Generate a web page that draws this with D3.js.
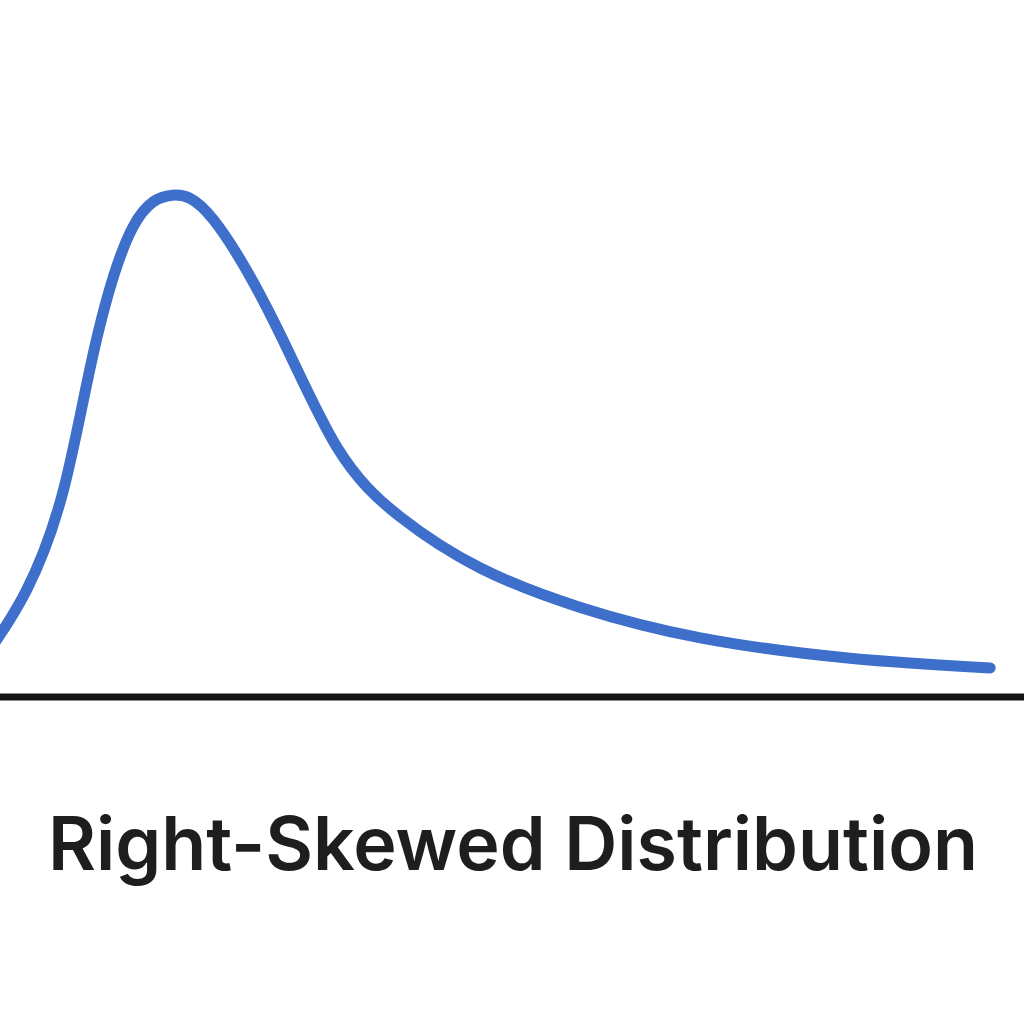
<!DOCTYPE html>
<html>
<head>
<meta charset="utf-8">
<script src="https://cdn.jsdelivr.net/npm/d3@7"></script>
<style>
  html, body { margin: 0; padding: 0; background: #fff; }
  svg { display: block; }
</style>
</head>
<body>
<script>
// chart size
const width = 1024
const height = 1024

// curve data (x in arbitrary units, y = density)
const xValues = [-0.10, 0.26, 0.62, 0.93, 1.30, 1.68, 2.08, 2.69, 3.29, 3.91, 4.69, 5.66, 6.84, 8.30, 9.67]
const yValues = [0.092, 0.210, 0.406, 0.690, 0.922, 0.984, 0.937, 0.730, 0.490, 0.353, 0.253, 0.176, 0.116, 0.076, 0.057]
const title = "Right-Skewed Distribution"

const points = xValues.map((x, i) => ({x: x, y: yValues[i]}))

const svg = d3.select("body")
              .append("svg")
              .attr("width", width)
              .attr("height", height)

svg.append("rect")
   .attr("width", width)
   .attr("height", height)
   .attr("fill", "#ffffff")

// scales
const x = d3.scaleLinear().domain([0, 10]).range([0, 1024])
const y = d3.scaleLinear().domain([0, 1]).range([697, 187])

// the curve
const line = d3.line()
               .x(d => x(d.x))
               .y(d => y(d.y))
               .curve(d3.curveNatural)

svg.append("path")
   .datum(points)
   .attr("d", line)
   .attr("fill", "none")
   .attr("stroke", "#3d6fcb")
   .attr("stroke-width", 11)
   .attr("stroke-linecap", "round")
   .attr("stroke-linejoin", "round")

// baseline axis
svg.append("line")
   .attr("x1", 0)
   .attr("x2", width)
   .attr("y1", y(0))
   .attr("y2", y(0))
   .attr("stroke", "#151515")
   .attr("stroke-width", 7)

// title
const t = svg.append("text")
   .attr("x", 513)
   .attr("y", 870)
   .attr("text-anchor", "middle")
   .attr("font-family", "Inter, 'Noto Sans', sans-serif")
   .attr("font-weight", 600)
   .attr("font-size", 76)
   .attr("fill", "#1e1e1e")
   .text(title)

// keep the title at the same width as in the picture
const len = t.node().getComputedTextLength()
if (len > 0) t.attr("font-size", 76 * 930 / len)
</script>
</body>
</html>
